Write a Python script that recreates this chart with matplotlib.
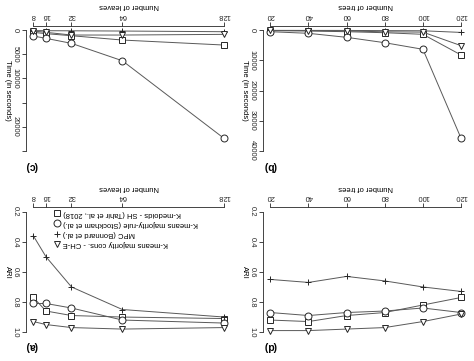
import numpy as np
import matplotlib
matplotlib.use('Agg')
import matplotlib.pyplot as plt
from matplotlib.lines import Line2D

# the reference is the original 2x2 figure flipped upside down,
# so y axes are inverted, x axes sit on top and text is turned over

leaves = [8, 16, 32, 64, 128]
trees = [20, 40, 60, 80, 100, 120]

methods = ['K-medoids - SH (Tahir et al., 2018)',
           'K-means majority-rule (Stockham et al.)',
           'MPC (Bonnard et al.)',
           'K-means majority cons. - CH-E']
markers = ['s', 'o', '+', 'v']

# ARI vs number of leaves, one list per method (same order as methods)
ari_leaves_kmedoids = [0.77, 0.86, 0.89, 0.90, 0.91]
ari_leaves_kmeans_mr = [0.81, 0.81, 0.84, 0.92, 0.94]
ari_leaves_mpc = [0.36, 0.50, 0.70, 0.85, 0.90]
ari_leaves_kmeans_cons = [0.93, 0.95, 0.97, 0.98, 0.97]

# ARI vs number of trees
ari_trees_kmedoids = [0.92, 0.93, 0.89, 0.87, 0.82, 0.77]
ari_trees_kmeans_mr = [0.87, 0.89, 0.87, 0.86, 0.84, 0.87]
ari_trees_mpc = [0.65, 0.67, 0.63, 0.66, 0.70, 0.73]
ari_trees_kmeans_cons = [0.99, 0.99, 0.98, 0.97, 0.93, 0.88]

# time (s) vs number of leaves
time_leaves_kmedoids = [420, 700, 1120, 2020, 3060]
time_leaves_kmeans_mr = [1190, 1670, 2710, 6320, 22450]
time_leaves_mpc = [50, 80, 100, 150, 290]
time_leaves_kmeans_cons = [150, 420, 980, 980, 840]

# time (s) vs number of trees
time_trees_kmedoids = [130, 230, 460, 800, 1330, 8200]
time_trees_kmeans_mr = [460, 1000, 2330, 4120, 6310, 35900]
time_trees_mpc = [20, 30, 40, 100, 150, 700]
time_trees_kmeans_cons = [50, 100, 200, 500, 600, 5100]

ari_ticks = [0.2, 0.4, 0.6, 0.8, 1.0]
ari_ticklabels = ['0.2', '0.4', '0.6', '0.8', '1.0']
tl_ticks = [0, 5000, 10000, 15000, 20000, 25000]
tl_ticklabels = ['0', '5000', '10000', '', '20000', '']
tt_ticks = [0, 10000, 20000, 30000, 40000]
tt_ticklabels = ['0', '10000', '20000', '30000', '40000']

plt.rcParams['font.family'] = ['Liberation Sans', 'DejaVu Sans']
plt.rcParams['font.size'] = 5.5
fs = 5.5
dark = '0.15'
linecol = '0.35'


def pad(lo, hi):
    # R style 4% padding
    d = 0.04 * (hi - lo)
    return lo - d, hi + d


def drawpanel(ax, xax, series, xticks, yticks, yticklabels, xlabel, ylabel, yrange):
    for ys, m in zip(series, markers):
        ax.plot(xax, ys, color=linecol, lw=0.7, marker=m, markersize=5,
                markerfacecolor='white', markeredgecolor=dark, markeredgewidth=0.7)
    xlo, xhi = pad(xticks[0], xticks[-1])
    ax.set_xlim(xlo, xhi)
    ylo, yhi = pad(yrange[0], yrange[1])
    ax.set_ylim(yhi, ylo)
    ax.xaxis.tick_top()
    ax.xaxis.set_label_position('top')
    ax.spines['bottom'].set_visible(False)
    ax.spines['right'].set_visible(False)
    ax.spines['top'].set_bounds(xticks[0], xticks[-1])
    ax.spines['left'].set_bounds(yticks[0], yticks[-1])
    for s in ('top', 'left'):
        ax.spines[s].set_color(dark)
        ax.spines[s].set_linewidth(0.6)
    ax.tick_params(colors=dark, width=0.6, length=3, pad=2, labelsize=fs)
    ax.set_xticks(xticks)
    ax.set_xticklabels([str(x) for x in xticks], rotation=180)
    ax.set_yticks(yticks)
    ax.set_yticklabels(yticklabels, rotation=270, va='center')
    ax.set_xlabel(xlabel, rotation=180, fontsize=fs, labelpad=3)
    ax.set_ylabel(ylabel, rotation=270, fontsize=fs, labelpad=3, va='center')
    ax.patch.set_visible(False)


fig = plt.figure(figsize=(4.74, 3.61), dpi=100)
W, H = 474., 361.
axw, axh = 206. / W, 130. / H
lefts = [25.7 / W, 262.7 / W]
bottoms = [1 - 155.5 / H, 1 - 336.9 / H]

ax_c = fig.add_axes([lefts[0], bottoms[0], axw, axh])
ax_b = fig.add_axes([lefts[1], bottoms[0], axw, axh])
ax_a = fig.add_axes([lefts[0], bottoms[1], axw, axh])
ax_d = fig.add_axes([lefts[1], bottoms[1], axw, axh])

drawpanel(ax_a, leaves,
          [ari_leaves_kmedoids, ari_leaves_kmeans_mr, ari_leaves_mpc, ari_leaves_kmeans_cons],
          leaves, ari_ticks, ari_ticklabels, 'Number of leaves', 'ARI', (0.2, 1.0))
drawpanel(ax_d, trees,
          [ari_trees_kmedoids, ari_trees_kmeans_mr, ari_trees_mpc, ari_trees_kmeans_cons],
          trees, ari_ticks, ari_ticklabels, 'Number of trees', 'ARI', (0.2, 1.0))
drawpanel(ax_c, leaves,
          [time_leaves_kmedoids, time_leaves_kmeans_mr, time_leaves_mpc, time_leaves_kmeans_cons],
          leaves, tl_ticks, tl_ticklabels, 'Number of leaves', 'Time (in seconds)', (0, 25000))
drawpanel(ax_b, trees,
          [time_trees_kmedoids, time_trees_kmeans_mr, time_trees_mpc, time_trees_kmeans_cons],
          trees, tt_ticks, tt_ticklabels, 'Number of trees', 'Time (in seconds)', (0, 40000))

# legend of panel (a): markers only, no frame, rows top to bottom as in the picture
leg_x, leg_text_x = 56.7, 63.0
leg_rows = [213.3, 223.3, 233.5, 244.0]
for name, m, ry in zip(methods, markers, leg_rows):
    fig.add_artist(Line2D([leg_x / W], [1 - ry / H], transform=fig.transFigure,
                          linestyle='none', marker=m, markersize=5,
                          markerfacecolor='white', markeredgecolor=dark,
                          markeredgewidth=0.7))
    fig.text(leg_text_x / W, 1 - ry / H, name, rotation=180, fontsize=fs,
             ha='left', va='center')

# panel letters
for lab, (px, py) in zip(['(c)', '(b)', '(a)', '(d)'],
                         [(31.7, 165.7), (270, 165.7), (31.7, 345.7), (270, 345.7)]):
    fig.text(px / W, 1 - py / H, lab, rotation=180, fontweight='bold', fontsize=7.5,
             ha='center', va='center')

fig.savefig('out.png', dpi=100)
